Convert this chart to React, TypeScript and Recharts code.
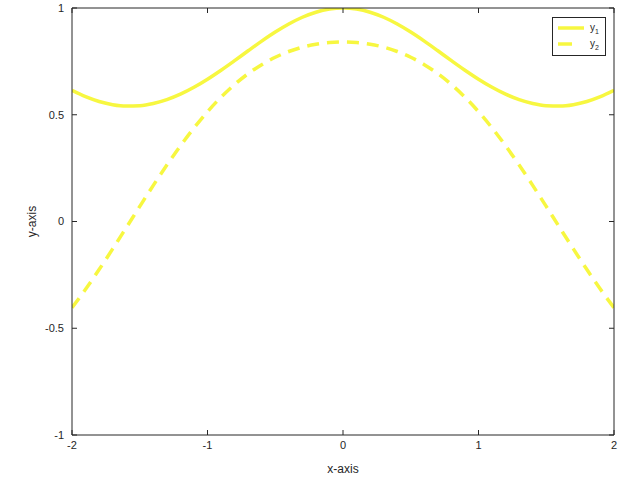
import { LineChart, Line, XAxis, YAxis } from "recharts";

// sample positions along x
const xs = [
  -2, -1.9, -1.8, -1.7, -1.6, -1.5, -1.4, -1.3, -1.2, -1.1, -1, -0.9, -0.8,
  -0.7, -0.6, -0.5, -0.4, -0.3, -0.2, -0.1, 0, 0.1, 0.2, 0.3, 0.4, 0.5, 0.6,
  0.7, 0.8, 0.9, 1, 1.1, 1.2, 1.3, 1.4, 1.5, 1.6, 1.7, 1.8, 1.9, 2,
];

// solid curve
const y1 = [
  0.6143, 0.5847, 0.5622, 0.5473, 0.5406, 0.5424, 0.5525, 0.5706, 0.5962,
  0.6285, 0.6664, 0.7086, 0.7535, 0.7996, 0.8448, 0.8873, 0.9251, 0.9567,
  0.9803, 0.995, 1, 0.995, 0.9803, 0.9567, 0.9251, 0.8873, 0.8448, 0.7996,
  0.7535, 0.7086, 0.6664, 0.6285, 0.5962, 0.5706, 0.5525, 0.5424, 0.5406,
  0.5473, 0.5622, 0.5847, 0.6143,
];

// dashed curve
const y2 = [
  -0.4042, -0.3177, -0.2252, -0.1284, -0.0292, 0.0706, 0.1692, 0.2643, 0.3545,
  0.4382, 0.5144, 0.5823, 0.6417, 0.6924, 0.7347, 0.7692, 0.7963, 0.8165,
  0.8305, 0.8388, 0.8415, 0.8388, 0.8305, 0.8165, 0.7963, 0.7692, 0.7347,
  0.6924, 0.6417, 0.5823, 0.5144, 0.4382, 0.3545, 0.2643, 0.1692, 0.0706,
  -0.0292, -0.1284, -0.2252, -0.3177, -0.4042,
];

const xTicks = [-2, -1, 0, 1, 2];
const yTicks = [-1, -0.5, 0, 0.5, 1];
const seriesNames = ["1", "2"];

const data = xs.map((x, i) => ({ x, y1: y1[i], y2: y2[i] }));

const YELLOW = "#f7f740";
const INK = "#262626";
const FONT = "'Liberation Sans', Arial, sans-serif";

// box axes keep their inward tick marks but show no labels
const NoLabel = () => <g />;

export default function App() {
  return (
    <div
      style={{
        position: "absolute",
        left: 0,
        top: 0,
        width: 639,
        height: 487,
        background: "#fff",
        fontFamily: FONT,
      }}
    >
      <LineChart
        width={639}
        height={487}
        data={data}
        margin={{ top: 7, right: 24, bottom: 0, left: 0 }}
      >
        <XAxis
          dataKey="x"
          type="number"
          domain={[-2, 2]}
          ticks={xTicks}
          allowDataOverflow
          height={52}
          stroke={INK}
          tickSize={-5}
          tickMargin={11}
          tick={{ fill: INK, fontSize: 11, fontFamily: FONT }}
          label={{
            value: "x-axis",
            position: "insideBottom",
            offset: 14,
            fill: INK,
            fontSize: 12,
            fontFamily: FONT,
          }}
        />
        <XAxis
          xAxisId="top"
          orientation="top"
          dataKey="x"
          type="number"
          domain={[-2, 2]}
          ticks={xTicks}
          allowDataOverflow
          height={1}
          stroke={INK}
          tickSize={-5}
          tick={NoLabel}
        />
        <YAxis
          type="number"
          domain={[-1, 1]}
          ticks={yTicks}
          allowDataOverflow
          width={72}
          stroke={INK}
          tickSize={-5}
          tickMargin={13}
          tick={{ fill: INK, fontSize: 11, fontFamily: FONT }}
          label={{
            value: "y-axis",
            angle: -90,
            position: "insideLeft",
            offset: 32,
            style: { textAnchor: "middle" },
            fill: INK,
            fontSize: 12,
            fontFamily: FONT,
          }}
        />
        <YAxis
          yAxisId="right"
          orientation="right"
          type="number"
          domain={[-1, 1]}
          ticks={yTicks}
          allowDataOverflow
          width={1}
          stroke={INK}
          tickSize={-5}
          tick={NoLabel}
        />
        {/* invisible series so the box axes (top/right) get drawn */}
        <Line
          xAxisId="top"
          yAxisId="right"
          dataKey="y1"
          stroke="none"
          dot={false}
          activeDot={false}
          legendType="none"
          isAnimationActive={false}
        />
        <Line
          dataKey="y1"
          type="monotone"
          stroke={YELLOW}
          strokeWidth={3.5}
          dot={false}
          isAnimationActive={false}
        />
        <Line
          dataKey="y2"
          type="monotone"
          stroke={YELLOW}
          strokeWidth={3.5}
          strokeDasharray="12 8"
          dot={false}
          isAnimationActive={false}
        />
      </LineChart>
      <div
        style={{
          position: "absolute",
          left: 552,
          top: 17,
          width: 52,
          height: 37,
          border: `1px solid ${INK}`,
          background: "#fff",
          fontSize: 10,
          color: INK,
        }}
      >
        {seriesNames.map((n, i) => (
          <div
            key={n}
            style={{
              position: "absolute",
              left: 5,
              top: 3 + i * 16,
              height: 14,
              display: "flex",
              alignItems: "center",
            }}
          >
            <svg width={26} height={6}>
              <line
                x1={0}
                y1={3}
                x2={26}
                y2={3}
                stroke={YELLOW}
                strokeWidth={3.5}
                strokeDasharray={i === 1 ? "14 12" : undefined}
              />
            </svg>
            <span style={{ marginLeft: 6 }}>
              y<sub style={{ fontSize: 7 }}>{n}</sub>
            </span>
          </div>
        ))}
      </div>
    </div>
  );
}
